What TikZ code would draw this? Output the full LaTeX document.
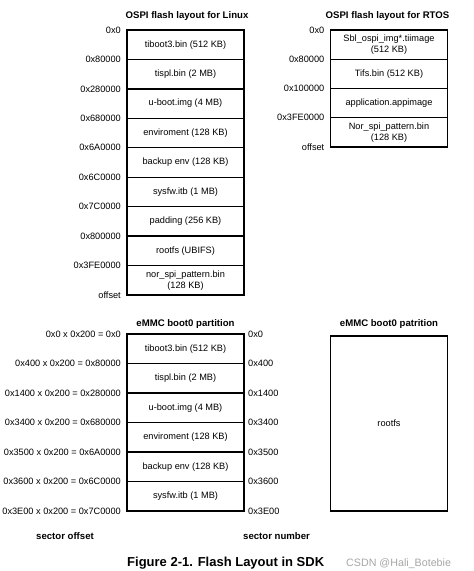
\documentclass[tikz,border=0pt]{standalone}
\usepackage{fontspec}
\setmainfont{Liberation Sans}
\usetikzlibrary{positioning}

\begin{document}
\begin{tikzpicture}[
    x=1pt, y=1pt,
    every node/.style={font=\fontsize{9.2}{11}\selectfont},
    slot/.style    = {draw=black, line width=1.3pt, outer sep=0pt, inner sep=1pt,
                      align=center, minimum width=117pt, minimum height=#1},
    slot/.default  = 29.5pt,
    addr/.style    = {inner sep=0pt},
    heading/.style = {inner sep=0pt, font=\fontsize{9.6}{11}\selectfont\bfseries},
    caption/.style = {inner sep=0pt, font=\fontsize{13}{15}\selectfont\bfseries}
]
\useasboundingbox (0,0) rectangle (474,571);

% OSPI flash layout for Linux
\node[heading] (tL) at (187,555) {OSPI flash layout for Linux};
\node[slot=29.45pt] (L1) at (185.5,526.3) {tiboot3.bin (512 KB)};
\node[slot=29.45pt, below=0pt of L1] (L2) {tispl.bin (2 MB)};
\node[slot=29.45pt, below=0pt of L2] (L3) {u-boot.img (4 MB)};
\node[slot=29.45pt, below=0pt of L3] (L4) {enviroment (128 KB)};
\node[slot=29.45pt, below=0pt of L4] (L5) {backup env (128 KB)};
\node[slot=29.45pt, below=0pt of L5] (L6) {sysfw.itb (1 MB)};
\node[slot=29.45pt, below=0pt of L6] (L7) {padding (256 KB)};
\node[slot=29.45pt, below=0pt of L7] (L8) {rootfs (UBIFS)};
\node[slot=29.45pt, below=0pt of L8] (L9) {nor\_spi\_pattern.bin\\(128 KB)};

\node[addr, left=6pt of L1.north west] (aL1) {0x0};
\node[addr, left=6pt of L2.north west] (aL2) {0x80000};
\node[addr, left=6pt of L3.north west] (aL3) {0x280000};
\node[addr, left=6pt of L4.north west] (aL4) {0x680000};
\node[addr, left=6pt of L5.north west] (aL5) {0x6A0000};
\node[addr, left=6pt of L6.north west] (aL6) {0x6C0000};
\node[addr, left=6pt of L7.north west] (aL7) {0x7C0000};
\node[addr, left=6pt of L8.north west] (aL8) {0x800000};
\node[addr, left=6pt of L9.north west] (aL9) {0x3FE0000};
\node[addr, left=6pt of L9.south west] (aL10) {offset};

% OSPI flash layout for RTOS
\node[heading] (tR) at (387.5,555) {OSPI flash layout for RTOS};
\node[slot=29.25pt] (R1) at (389,526.4) {Sbl\_ospi\_img*.tiimage\\(512 KB)};
\node[slot=29.25pt, below=0pt of R1] (R2) {Tifs.bin (512 KB)};
\node[slot=29.25pt, below=0pt of R2] (R3) {application.appimage};
\node[slot=29.25pt, below=0pt of R3] (R4) {Nor\_spi\_pattern.bin\\(128 KB)};

\node[addr, left=6pt of R1.north west] (aR1) {0x0};
\node[addr, left=6pt of R2.north west] (aR2) {0x80000};
\node[addr, left=6pt of R3.north west] (aR3) {0x100000};
\node[addr, left=6pt of R4.north west] (aR4) {0x3FE0000};
\node[addr, left=6pt of R4.south west] (aR5) {offset};

% eMMC boot0 partition
\node[heading] (tE) at (185.5,247) {eMMC boot0 partition};
\node[slot] (E1) at (185.5,222.25) {tiboot3.bin (512 KB)};
\node[slot, below=0pt of E1] (E2) {tispl.bin (2 MB)};
\node[slot, below=0pt of E2] (E3) {u-boot.img (4 MB)};
\node[slot, below=0pt of E3] (E4) {enviroment (128 KB)};
\node[slot, below=0pt of E4] (E5) {backup env (128 KB)};
\node[slot, below=0pt of E5] (E6) {sysfw.itb (1 MB)};

\node[addr, left=6pt of E1.north west] (oE1) {0x0 x 0x200 = 0x0};
\node[addr, left=6pt of E2.north west] (oE2) {0x400 x 0x200 = 0x80000};
\node[addr, left=6pt of E3.north west] (oE3) {0x1400 x 0x200 = 0x280000};
\node[addr, left=6pt of E4.north west] (oE4) {0x3400 x 0x200 = 0x680000};
\node[addr, left=6pt of E5.north west] (oE5) {0x3500 x 0x200 = 0x6A0000};
\node[addr, left=6pt of E6.north west] (oE6) {0x3600 x 0x200 = 0x6C0000};
\node[addr, left=6pt of E6.south west] (oE7) {0x3E00 x 0x200 = 0x7C0000};

\node[addr, right=4pt of E1.north east] (nE1) {0x0};
\node[addr, right=4pt of E2.north east] (nE2) {0x400};
\node[addr, right=4pt of E3.north east] (nE3) {0x1400};
\node[addr, right=4pt of E4.north east] (nE4) {0x3400};
\node[addr, right=4pt of E5.north east] (nE5) {0x3500};
\node[addr, right=4pt of E6.north east] (nE6) {0x3600};
\node[addr, right=4pt of E6.south east] (nE7) {0x3E00};

\node[heading] (sOff) at (65,35) {sector offset};
\node[heading, anchor=west] (sNum) at (243,35) {sector number};

% eMMC boot0 patrition (rootfs)
\node[heading] (tF) at (389,247) {eMMC boot0 patrition};
\node[slot=175pt] (F1) at (389,147.5) {rootfs};

% caption and watermark
\node[caption, anchor=base west] (cap) at (127,4.5) {Figure 2-1. Flash Layout in SDK};
\node[inner sep=0pt, anchor=base west, text=black!35,
      font=\fontsize{10.7}{12}\selectfont] (mark) at (346,5) {CSDN @Hali\_Botebie};

\end{tikzpicture}
\end{document}
